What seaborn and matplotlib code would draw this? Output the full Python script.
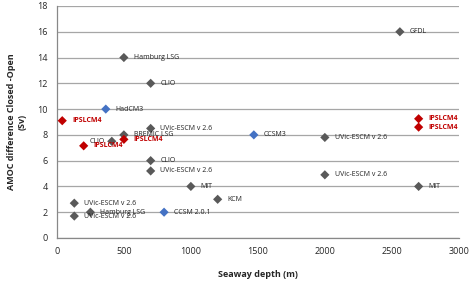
import pandas as pd
import matplotlib
matplotlib.use("Agg")
import matplotlib.pyplot as plt
import seaborn as sns

# values
depth = [500, 700, 365, 40, 700, 500, 410, 500, 200, 700, 700, 1000, 1200,
         130, 250, 130, 800, 1470, 2000, 2000, 2700, 2560, 2700, 2700]
amoc = [14.0, 12.0, 10.0, 9.1, 8.5, 8.0, 7.5, 7.65, 7.15, 6.0, 5.2, 4.0, 3.0,
        2.7, 2.0, 1.7, 2.0, 8.0, 7.8, 4.9, 4.0, 16.0, 9.25, 8.6]
model = ["Hamburg LSG", "CLIO", "HadCM3", "IPSLCM4", "UVic-ESCM v 2.6",
         "BREMIC LSG", "CLIO", "IPSLCM4", "IPSLCM4", "CLIO", "UVic-ESCM v 2.6",
         "MIT", "KCM", "UVic-ESCM v 2.6", "Hamburg LSG", "UVic-ESCM v 2.6",
         "CCSM 2.0.1", "CCSM3", "UVic-ESCM v 2.6", "UVic-ESCM v 2.6", "MIT",
         "GFDL", "IPSLCM4", "IPSLCM4"]
group = ["other", "other", "hadley", "ipsl", "other", "other", "other", "ipsl",
         "ipsl", "other", "other", "other", "other", "other", "other", "other",
         "hadley", "hadley", "other", "other", "other", "other", "ipsl", "ipsl"]

df = pd.DataFrame({"depth": depth, "amoc": amoc, "model": model, "group": group})
palette = {"other": "#595959", "ipsl": "#c00000", "hadley": "#4472c4"}

sns.set_style("white")
plt.rcParams["font.family"] = ["Open Sans", "DejaVu Sans"]

fig = plt.figure(figsize=(4.74, 2.85), dpi=100)
ax = fig.add_axes([0.12, 0.165, 0.848, 0.814])

ax.yaxis.grid(True, color="#a6a6a6", linewidth=0.9)
ax.set_axisbelow(True)

sns.scatterplot(data=df, x="depth", y="amoc", hue="group", palette=palette,
                marker="D", s=22, edgecolor="none", legend=False, ax=ax, zorder=3)

for _, r in df.iterrows():
    red = r["group"] == "ipsl"
    left = r["model"] == "CLIO" and r["depth"] == 410
    ax.annotate(r["model"], (r["depth"], r["amoc"]),
                xytext=(-5 if left else 7, 0), textcoords="offset points",
                ha="right" if left else "left", va="center", fontsize=5,
                color="#c00000" if red else "#222222",
                fontweight="bold" if red else "normal")

ax.set_xlim(0, 3000)
ax.set_ylim(0, 18)
ax.set_xticks(range(0, 3001, 500))
ax.set_yticks(range(0, 19, 2))
ax.tick_params(axis="both", labelsize=6.5, length=3, width=0.8,
               color="#888888", direction="out")
for side in ["top", "right"]:
    ax.spines[side].set_visible(False)
for side in ["left", "bottom"]:
    ax.spines[side].set_color("#888888")
    ax.spines[side].set_linewidth(0.9)

ax.set_xlabel("Seaway depth (m)", fontsize=6.5, fontweight="bold", labelpad=10)
ax.set_ylabel("AMOC difference Closed -Open\n(Sv)", fontsize=6.5,
              fontweight="bold", labelpad=8)

fig.savefig("out.png", dpi=100)
plt.close(fig)
